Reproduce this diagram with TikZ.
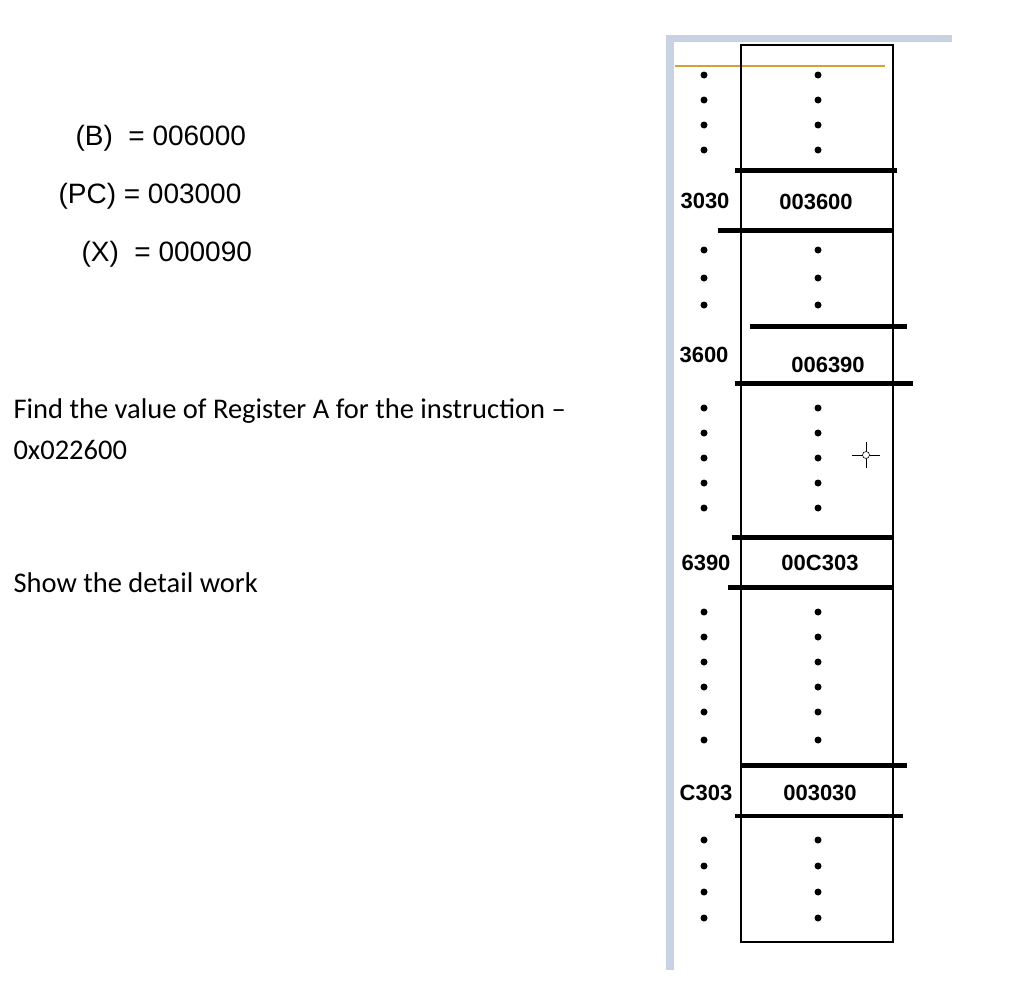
\documentclass[tikz,border=0pt]{standalone}
\usepackage{fontspec}
\setmainfont{Liberation Sans}
\newfontfamily\calib{Carlito}
\definecolor{frame}{RGB}{200,210,226}
\definecolor{gold}{RGB}{214,160,50}
\begin{document}
\begin{tikzpicture}[x=1pt,y=-1pt,
  reg/.style={anchor=base west,font=\fontsize{28}{32}\selectfont},
  cal/.style={anchor=base west,font=\calib\fontsize{28.5}{32}\selectfont},
  mem/.style={font=\bfseries\fontsize{22}{26}\selectfont},
  bar/.style={line width=5pt},
  dotc/.style={circle,fill=black,inner sep=0pt,minimum size=7pt}]
\useasboundingbox (0,0) rectangle (1016,1004);
% left texts
\node[reg] (b) at (72,145) {(B)\; = 006000};
\node[reg] (pc) at (55,203) {(PC) = 003000};
\node[reg] (x) at (78,261) {(X)\; = 000090};
\node[cal] (q1) at (10,418) {Find the value of Register A for the instruction –};
\node[cal] (q2) at (10,459) {0x022600};
\node[cal] (q3) at (10,592) {Show the detail work};
% frame
\fill[frame] (666,35) rectangle (674,970);
\fill[frame] (666,35) rectangle (952,42);
\draw[gold,line width=1.5pt] (675,66) -- (885,66);
\draw[line width=1.5pt] (741,45) rectangle (893,942);
% bars
\draw[bar] (735,170) -- (897,170);
\draw[bar] (718,230) -- (893,230);
\draw[bar] (750,326) -- (907,326);
\draw[bar] (735,383) -- (913,383);
\draw[bar] (732,537) -- (893,537);
\draw[bar] (728,587) -- (893,587);
\draw[bar] (740,765) -- (907,765);
\draw[line width=3.5pt] (735,816) -- (903,816);
% labels
\node[mem] (a1) at (705,201) {3030};
\node[mem] (a2) at (704,355) {3600};
\node[mem] (a3) at (706,563) {6390};
\node[mem] (a4) at (706,793) {C303};
\node[mem] (v1) at (816,202) {003600};
\node[mem] (v2) at (828,365) {006390};
\node[mem] (v3) at (820,563) {00C303};
\node[mem] (v4) at (820,793) {003030};
% dots
\foreach \y in {75,100,125,150,250,278,305,408,433,458,483,508,612,637,662,687,712,740,840,866,892,918}{
  \node[dotc] at (704,\y) {};
  \node[dotc] at (818,\y) {};
}
% crosshair
\draw[line width=0.6pt] (852,455) -- (880,455) (866,442) -- (866,468);
\draw[line width=0.6pt,fill=white] (866,455) circle (3.5);
\end{tikzpicture}
\end{document}
